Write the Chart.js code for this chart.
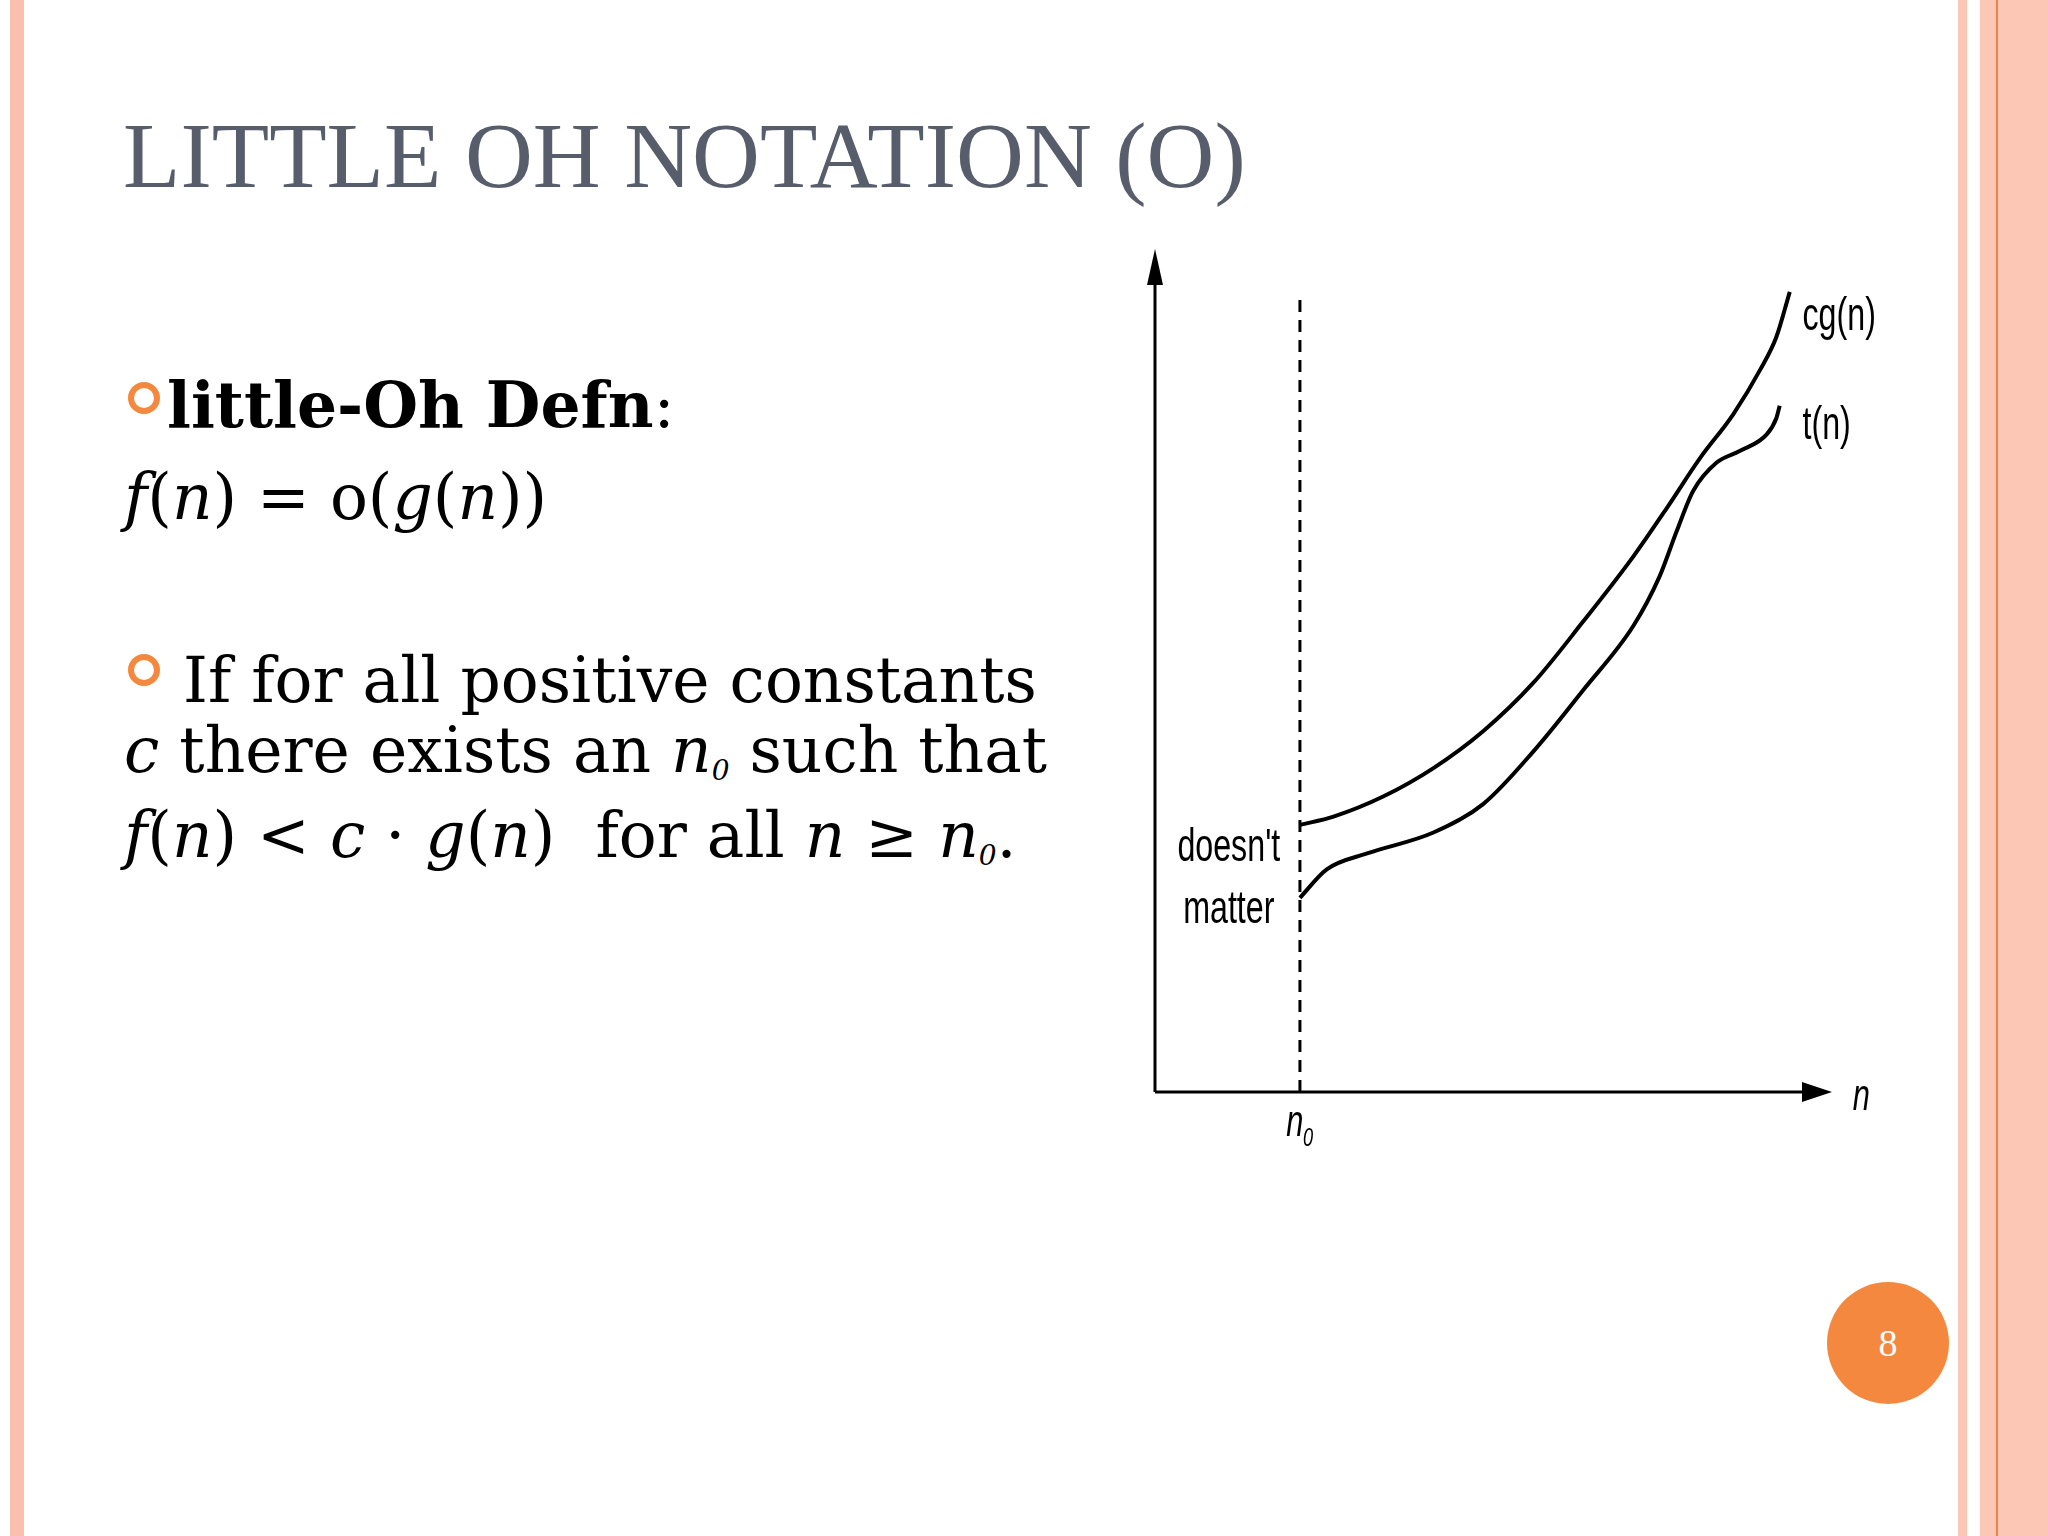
<!DOCTYPE html>
<html><head><meta charset="utf-8">
<script src="https://cdn.jsdelivr.net/npm/chart.js@4/dist/chart.umd.min.js"></script>
<style>
body{margin:0;width:2048px;height:1536px;background:#fff;position:relative;overflow:hidden;font-family:"Liberation Serif",serif;}
.abs{position:absolute;white-space:nowrap;}
.t{font-size:63px;color:#000;line-height:1;font-family:"DejaVu Serif",serif;}
i{font-style:italic}
sub{font-size:28px;font-style:italic;vertical-align:-8px}
.ring{position:absolute;width:20px;height:20px;border:6px solid #f5883f;border-radius:50%;}
</style></head><body>
<div class="abs" style="left:10px;top:0;width:14px;height:1536px;background:#f8c0ad"></div>
<div class="abs" style="left:1958px;top:0;width:9px;height:1536px;background:#fcc8b5"></div>
<div class="abs" style="left:1980px;top:0;width:68px;height:1536px;background:#fcc8b5"></div>
<div class="abs" style="left:1996px;top:0;width:2px;height:1536px;background:#f08050"></div>
<div class="abs" style="left:123px;top:108px;font-size:94px;color:#575d6b;line-height:1">LITTLE OH NOTATION (O)</div>
<div class="ring" style="left:128px;top:382px"></div>
<div class="ring" style="left:128px;top:654px"></div>
<div class="abs t" style="left:167px;top:374px"><b>little-Oh Defn</b>:</div>
<div class="abs t" style="left:124px;top:466px"><i>f</i>(<i>n</i>) = o(<i>g</i>(<i>n</i>))</div>
<div class="abs t" style="left:183px;top:649px">If for all positive constants</div>
<div class="abs t" style="left:124px;top:719px"><i>c</i> there exists an <i>n</i><sub>0</sub> such that</div>
<div class="abs t" style="left:124px;top:804px"><i>f</i>(<i>n</i>) &lt; <i>c</i> · <i>g</i>(<i>n</i>)&nbsp; for all <i>n</i> ≥ <i>n</i><sub>0</sub>.</div>
<div class="abs" style="left:1827px;top:1282px;width:122px;height:122px;border-radius:50%;background:#f5883f;color:#fff;font-size:38px;text-align:center;line-height:122px">8</div>
<div class="abs" style="left:1100px;top:230px;width:800px;height:940px"><canvas id="c" width="800" height="940"></canvas></div>
<script>
const n0 = 21.6;
const cgX = [21.6,26.6,34.0,41.5,48.9,56.4,63.8,71.3,76.3,81.2,86.2,90.2,92.6,94.6];
const cgY = [31.9,32.9,35.3,38.7,43.1,48.9,56.2,64.0,69.8,75.7,81.0,86.3,90.2,95.6];
const tX = [21.6,25.6,31.6,41.5,48.9,56.4,63.8,71.3,75.2,77.7,80.2,83.7,87.2,91.2,92.6,93.1];
const tY = [23.2,26.6,28.5,31.0,34.4,40.7,48.0,55.7,61.6,66.9,71.8,75.2,76.6,78.6,80.5,82.0];
const labels = {cg:"cg(n)", t:"t(n)", dm1:"doesn't", dm2:"matter", n0:"n", n:"n"};
const pts=(xs,ys)=>xs.map((x,i)=>({x,y:ys[i]}));
const deco={id:'deco',afterDatasetsDraw(ch){
 const {ctx,scales:{x,y}}=ch;ctx.save();ctx.strokeStyle='#000';ctx.fillStyle='#000';
 const ox=x.getPixelForValue(0),oy=y.getPixelForValue(0);
 const ty=y.getPixelForValue(100),rx=x.getPixelForValue(100);
 ctx.lineWidth=3;ctx.beginPath();ctx.moveTo(ox,oy);ctx.lineTo(ox,ty+10);ctx.moveTo(ox,oy);ctx.lineTo(rx-10,oy);ctx.stroke();
 ctx.beginPath();ctx.moveTo(ox,ty-6);ctx.lineTo(ox-8,ty+30);ctx.lineTo(ox+8,ty+30);ctx.fill();
 ctx.beginPath();ctx.moveTo(rx+6,oy);ctx.lineTo(rx-24,oy-10);ctx.lineTo(rx-24,oy+10);ctx.fill();
 const nx=x.getPixelForValue(n0);ctx.setLineDash([12,8]);ctx.lineWidth=3;ctx.beginPath();ctx.moveTo(nx,oy);ctx.lineTo(nx,y.getPixelForValue(95));ctx.stroke();ctx.setLineDash([]);
 ctx.font='46px "Liberation Sans"';ctx.textBaseline='alphabetic';
 const nar=(txt,px,py,al)=>{ctx.save();ctx.translate(px,py);ctx.scale(0.7,1);ctx.textAlign=al;ctx.fillText(txt,0,0);ctx.restore();};
 nar(labels.cg,x.getPixelForValue(96.5),y.getPixelForValue(91),'left');
 nar(labels.t,x.getPixelForValue(96.5),y.getPixelForValue(78),'left');
 nar(labels.dm1,x.getPixelForValue(11),y.getPixelForValue(27.6),'center');
 nar(labels.dm2,x.getPixelForValue(11),y.getPixelForValue(20.2),'center');
 ctx.font='italic 44px "Liberation Sans"';
 nar(labels.n,x.getPixelForValue(104),oy+18,'left');
 nar(labels.n0,nx-5,oy+44,'center');
 ctx.font='italic 26px "Liberation Sans"';nar('0',nx+8,oy+54,'center');
 ctx.restore();}};
new Chart(document.getElementById('c'),{type:'scatter',
 data:{datasets:[
  {data:pts(cgX,cgY),showLine:true,borderColor:'#000',borderWidth:4,pointRadius:0,cubicInterpolationMode:'monotone'},
  {data:pts(tX,tY),showLine:true,borderColor:'#000',borderWidth:4,pointRadius:0,cubicInterpolationMode:'monotone'}]},
 options:{responsive:false,animation:false,layout:{padding:{left:55,right:74,top:25,bottom:78}},
  plugins:{legend:{display:false},tooltip:{enabled:false}},
  scales:{x:{type:'linear',min:0,max:100,display:false},y:{min:0,max:100,display:false}}},
 plugins:[deco]});
</script>
</body></html>
